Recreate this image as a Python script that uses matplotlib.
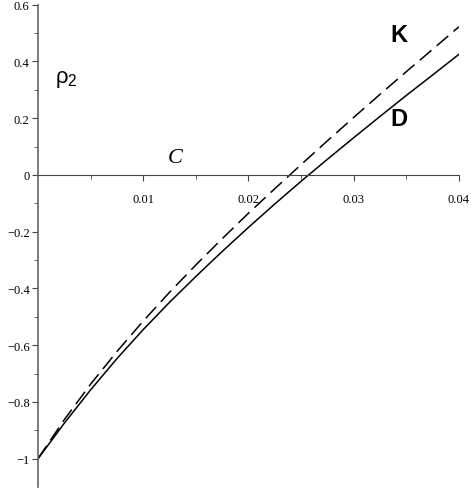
import matplotlib

matplotlib.use("Agg")
import matplotlib.pyplot as plt
import numpy as np

# values
c_vals = [0.0, 0.0025, 0.005, 0.0075, 0.01, 0.0125, 0.015, 0.0175, 0.02,
          0.0225, 0.025, 0.0275, 0.03, 0.0325, 0.035, 0.0375, 0.04]
rho_D = [-1.0, -0.875, -0.7575, -0.6475, -0.545, -0.449, -0.358, -0.270, -0.185,
         -0.1025, -0.0225, 0.055, 0.131, 0.206, 0.280, 0.352, 0.425]
rho_K = [-1.0, -0.8625, -0.7375, -0.6225, -0.515, -0.4138, -0.3175, -0.225, -0.135,
         -0.0488, 0.0362, 0.120, 0.2025, 0.2838, 0.3638, 0.4425, 0.522]

x_ticks = [0.01, 0.02, 0.03, 0.04]
x_tick_labels = ["0.01", "0.02", "0.03", "0.04"]
y_ticks = [-1.0, -0.8, -0.6, -0.4, -0.2, 0.0, 0.2, 0.4, 0.6]
y_tick_labels = ["\u22121", "\u22120.8", "\u22120.6", "\u22120.4", "\u22120.2", "0", "0.2", "0.4", "0.6"]

fig = plt.figure(figsize=(4.74, 4.89), dpi=100)
ax = fig.add_axes([0.0802, 0.002, 0.888, 0.9865])

ax.plot(c_vals, rho_D, color="black", lw=1.1)
ax.plot(c_vals, rho_K, color="black", lw=1.1, dashes=[10, 4.5])

ax.set_xlim(0, 0.04)
ax.set_ylim(-1.1, 0.6)

ax.spines["top"].set_visible(False)
ax.spines["right"].set_visible(False)
ax.spines["bottom"].set_position(("data", 0))
ax.spines["left"].set_position(("data", 0))
ax.spines["bottom"].set_color("#444444")
ax.spines["left"].set_color("#666666")
ax.spines["left"].set_linewidth(1.2)

tick_font = {"family": "Liberation Serif", "size": 9}
ax.set_xticks(x_ticks)
ax.set_xticklabels(x_tick_labels, fontdict=tick_font)
ax.set_yticks(y_ticks)
ax.set_yticklabels(y_tick_labels, fontdict=tick_font)
ax.set_xticks(np.arange(0.005, 0.04, 0.01), minor=True)
ax.set_yticks(np.arange(-0.9, 0.6, 0.2), minor=True)
ax.tick_params(axis="x", which="major", direction="out", length=4, pad=9, color="#444444")
ax.tick_params(axis="x", which="minor", direction="out", length=3, color="#444444")
ax.tick_params(axis="y", which="major", direction="out", length=4, pad=2, color="#444444")
ax.tick_params(axis="y", which="minor", direction="out", length=3, color="#444444")

ax.text(0.0016, 0.34, r"$\mathregular{\rho_2}$", fontsize=16, family="Liberation Sans",
        ha="left", va="center")
ax.text(0.0130, 0.063, "C", fontsize=16, family="Liberation Serif", style="italic",
        ha="center", va="center")
ax.text(0.0343, 0.493, "K", fontsize=17, family="Liberation Sans", weight="bold",
        ha="center", va="center")
ax.text(0.0343, 0.197, "D", fontsize=17, family="Liberation Sans", weight="bold",
        ha="center", va="center")

fig.savefig("out.png", dpi=100)
plt.close(fig)
